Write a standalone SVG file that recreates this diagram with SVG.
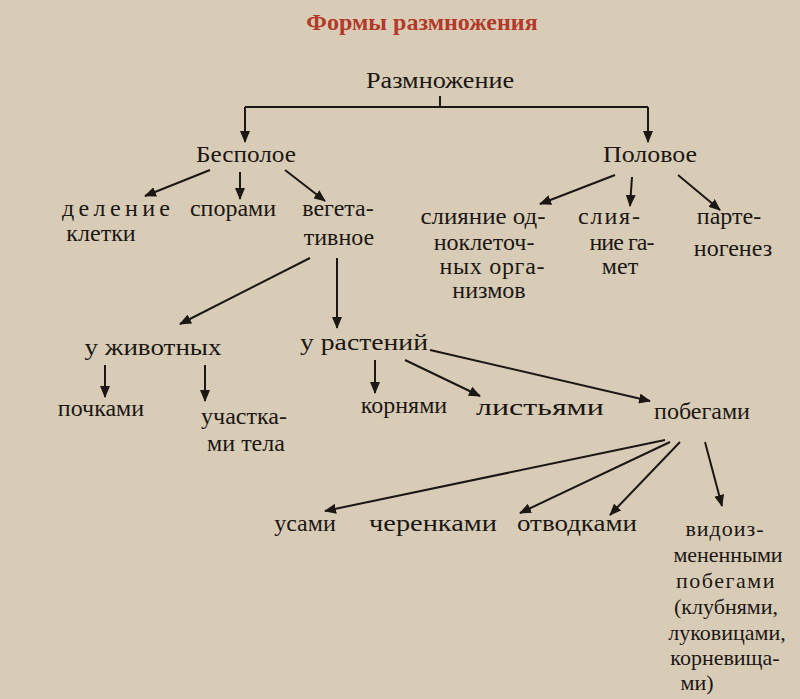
<svg xmlns="http://www.w3.org/2000/svg" width="800" height="699" viewBox="0 0 800 699">
<style>
text{font-family:"Liberation Serif",serif;font-size:24px;fill:#1a1714;text-anchor:middle}
.t{font-weight:bold;fill:#b23a2a;font-size:24px}
.v{font-size:22px}
.c line,.c path{stroke:#1a1714;stroke-width:2;fill:none}
.a{marker-end:url(#ar)}
</style>
<defs><marker id="ar" markerWidth="12" markerHeight="10" refX="11" refY="5" orient="auto" markerUnits="userSpaceOnUse"><path d="M0,0 L12,5 L0,10 Z" fill="#1a1714"/></marker></defs>
<rect width="800" height="699" fill="#d9ccb6"/>
<text class="t" x="422" y="30">Формы размножения</text>
<g class="c">
<path d="M440,96 V107 M245,107 H648"/>
<line class="a" x1="245" y1="107" x2="245" y2="142"/>
<line class="a" x1="648" y1="107" x2="648" y2="142"/>
<line class="a" x1="210" y1="170" x2="145" y2="196"/>
<line class="a" x1="240" y1="172" x2="240" y2="199"/>
<line class="a" x1="285" y1="170" x2="325" y2="201"/>
<line class="a" x1="615" y1="175" x2="540" y2="204"/>
<line class="a" x1="632" y1="177" x2="630" y2="206"/>
<line class="a" x1="678" y1="175" x2="720" y2="210"/>
<line class="a" x1="310" y1="258" x2="180" y2="324"/>
<line class="a" x1="337" y1="258" x2="337" y2="328"/>
<line class="a" x1="105" y1="365" x2="105" y2="397"/>
<line class="a" x1="205" y1="365" x2="205" y2="401"/>
<line class="a" x1="375" y1="360" x2="375" y2="393"/>
<line class="a" x1="405" y1="360" x2="480" y2="396"/>
<line class="a" x1="430" y1="350" x2="650" y2="401"/>
<line class="a" x1="665" y1="440" x2="325" y2="511"/>
<line class="a" x1="670" y1="442" x2="520" y2="513"/>
<line class="a" x1="680" y1="442" x2="610" y2="515"/>
<line class="a" x1="705" y1="442" x2="722" y2="506"/>
</g>
<g id="root"><text x="440" y="88" textLength="148" lengthAdjust="spacingAndGlyphs">Размножение</text></g>
<g id="asex"><text x="246" y="162" textLength="100" lengthAdjust="spacingAndGlyphs">Бесполое</text></g>
<g id="sex"><text x="650" y="162" textLength="94" lengthAdjust="spacingAndGlyphs">Половое</text></g>
<g id="del"><text x="116" y="216" textLength="108" lengthAdjust="spacing">деление</text><text x="101" y="241">клетки</text></g>
<g id="spor"><text x="233" y="216">спорами</text></g>
<g id="veg"><text x="338" y="216">вегета-</text><text x="339" y="245">тивное</text></g>
<g id="sl1"><text x="483" y="224" textLength="125" lengthAdjust="spacingAndGlyphs">слияние од-</text><text x="484" y="250">ноклеточ-</text><text x="492" y="274" textLength="105" lengthAdjust="spacing">ных орга-</text><text x="489" y="298">низмов</text></g>
<g id="sl2"><text x="609" y="224" textLength="62" lengthAdjust="spacing">слия-</text><text x="622" y="250" textLength="65" lengthAdjust="spacing">ние га-</text><text x="620" y="274">мет</text></g>
<g id="part"><text x="729" y="224">парте-</text><text x="733" y="256">ногенез</text></g>
<g id="anim"><text x="153" y="355" textLength="137" lengthAdjust="spacingAndGlyphs">у животных</text></g>
<g id="plant"><text x="364" y="350" textLength="128" lengthAdjust="spacingAndGlyphs">у растений</text></g>
<g id="poch"><text x="101" y="416">почками</text></g>
<g id="uch"><text x="244" y="424">участка-</text><text x="246" y="451">ми тела</text></g>
<g id="korn"><text x="404" y="413">корнями</text></g>
<g id="list"><text x="540" y="415" textLength="128" lengthAdjust="spacingAndGlyphs">листьями</text></g>
<g id="pob"><text x="702" y="419">побегами</text></g>
<g id="us"><text x="305" y="531">усами</text></g>
<g id="cher"><text x="433" y="531" textLength="128" lengthAdjust="spacingAndGlyphs">черенками</text></g>
<g id="otv"><text x="577" y="531" textLength="120" lengthAdjust="spacingAndGlyphs">отводками</text></g>
<g id="vid" class="v"><text class="v" x="725" y="536" letter-spacing="1">видоиз-</text><text class="v" x="728" y="562">мененными</text><text class="v" x="726" y="588" letter-spacing="1.5">побегами</text><text class="v" x="726" y="614">(клубнями,</text><text class="v" x="727" y="640">луковицами,</text><text class="v" x="725" y="665">корневища-</text><text class="v" x="697" y="690">ми)</text></g>
</svg>
